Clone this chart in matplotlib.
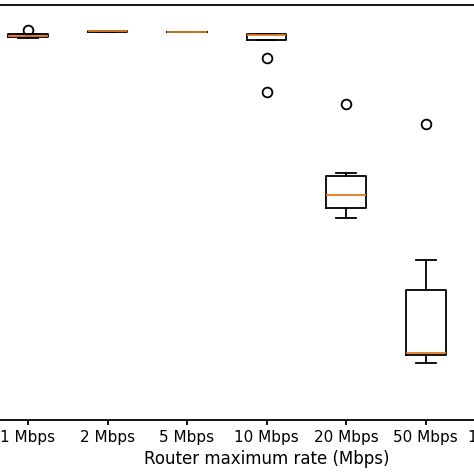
import matplotlib
matplotlib.use("Agg")
import matplotlib.pyplot as plt

labels = ["1 Mbps", "2 Mbps", "5 Mbps", "10 Mbps", "20 Mbps", "50 Mbps", "100 Mbps"]
med = [92.5, 93.7, 93.5, 92.8, 54.2, 16.1, 10.0]
q1 = [92.2, 93.6, 93.4, 91.6, 51.1, 15.7, 8.0]
q3 = [92.9, 93.8, 93.6, 92.9, 58.9, 31.3, 20.0]
wlo = [92.1, 93.6, 93.4, 91.6, 48.7, 13.7, 5.0]
whi = [93.0, 93.8, 93.6, 92.9, 59.5, 38.6, 30.0]
fliers = [[93.9], [], [], [87.2, 79.0], [76.1], [71.3], []]

stats = [dict(med=m, q1=a, q3=b, whislo=lo, whishi=hi, fliers=f, label=l)
         for m, a, b, lo, hi, f, l in zip(med, q1, q3, wlo, whi, fliers, labels)]

lw = 1.3
fig = plt.figure(figsize=(4.74, 4.74), dpi=100)
ax = fig.add_axes([-11.8/474, 54/474, 556.8/474, 415/474])
ax.bxp(stats,
       boxprops=dict(linewidth=lw), whiskerprops=dict(linewidth=lw),
       capprops=dict(linewidth=lw), medianprops=dict(linewidth=lw, color="#e07b20"),
       flierprops=dict(markeredgewidth=lw, markersize=7))
ax.set_ylim(0, 100)
ax.set_xlim(0.5, 7.5)
ax.tick_params(axis="x", labelsize=11, width=lw)
ax.tick_params(axis="y", left=False, labelleft=False)
for s in ax.spines.values():
    s.set_linewidth(lw)
ax.set_xlabel("Router maximum rate (Mbps)", fontsize=12)
fig.savefig("out.png", dpi=100)
